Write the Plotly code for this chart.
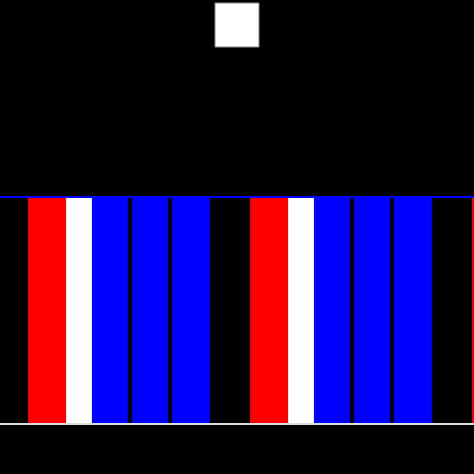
import plotly.graph_objects as go

# three repeating groups, each bar reaches the same level
groups = [0, 1, 2]
red_vals = [1, 1, 1]
white_vals = [1, 1, 1]
blue_a_vals = [1, 1, 1]
blue_b_vals = [1, 1, 1]
blue_c_vals = [1, 1, 1]
top_level = 1

series = [
    (red_vals, "#ff0000", -0.324, 0.171),
    (white_vals, "#ffffff", -0.180, 0.117),
    (blue_a_vals, "#0000ff", -0.041, 0.162),
    (blue_b_vals, "#0000ff", 0.140, 0.162),
    (blue_c_vals, "#0000ff", 0.324, 0.171),
]

fig = go.Figure()
for vals, color, off, w in series:
    fig.add_trace(go.Bar(x=[g + off for g in groups], y=vals, width=w,
                         marker=dict(color=color, line=dict(width=0)),
                         showlegend=False))

fig.add_hline(y=0, line_color="#dddddd", line_width=2)
fig.add_hline(y=top_level, line_color="#0000ff", line_width=2)

# white box at the top centre
fig.add_shape(type="rect", xref="paper", yref="paper",
              x0=0.4536, x1=0.5464, y0=0.9008, y1=0.9937,
              fillcolor="#ffffff", line=dict(color="#888888", width=1))

fig.update_layout(width=474, height=474, margin=dict(l=0, r=0, t=0, b=0),
                  paper_bgcolor="#000000", plot_bgcolor="#000000",
                  barmode="overlay", showlegend=False)
fig.update_xaxes(range=[-0.536, 1.599], visible=False)
fig.update_yaxes(range=[-0.220, 1.868], visible=False)

fig.write_html("out.html", config={"displayModeBar": False},
               post_script="document.body.style.margin='0';"
                           "document.body.style.background='#000';")
